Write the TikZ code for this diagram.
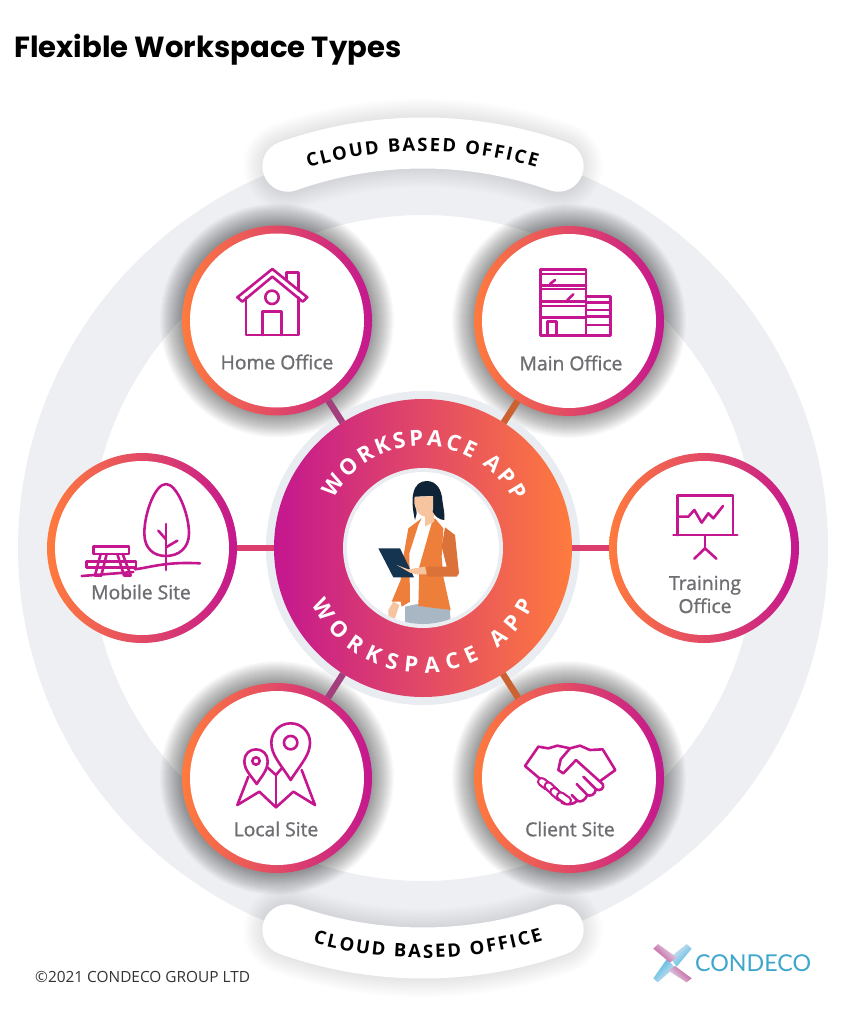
\documentclass[tikz,border=0pt]{standalone}
\usepackage{fontspec}
\setmainfont{Open Sans}
\newfontfamily\labfont{Open Sans}[FakeBold=1.2]
\newfontfamily\titlefont{Poppins}[BoldFont={Poppins Bold}]
\newfontfamily\curvefont{Open Sans}
\newfontfamily\brandfont{Lato}
\usetikzlibrary{decorations.text,calc}
\definecolor{mag}{HTML}{C4178F}
\definecolor{org}{HTML}{FF7B3D}
\definecolor{ringgrey}{HTML}{EEEFF3}
\definecolor{halo}{HTML}{E9ECF1}
\definecolor{labgrey}{HTML}{6D6E71}
\definecolor{teal}{HTML}{3BA7CC}
\definecolor{hair}{HTML}{0F2336}
\definecolor{skin}{HTML}{F7C4A0}
\definecolor{jacket}{HTML}{EE7F3A}
\definecolor{sleeve}{HTML}{DB7239}
\definecolor{navy}{HTML}{14344F}
\definecolor{pants}{HTML}{A9B6C4}
\definecolor{lpink}{HTML}{C04A92}
\definecolor{lblue}{HTML}{45B5E0}
\definecolor{pale}{HTML}{E4E8F2}
\tikzset{
  x=1pt,y=1pt,
  station/.style={circle,inner sep=0pt,outer sep=0pt,minimum size=190pt,left color=org,right color=mag,
    path picture={\fill[white] (path picture bounding box.center) circle (87pt);}},
  hubring/.style={circle,inner sep=0pt,outer sep=0pt,minimum size=298pt,left color=mag,right color=org,
    path picture={\fill[halo] (path picture bounding box.center) circle (80pt);
      \fill[white] (path picture bounding box.center) circle (76pt);}},
  conn/.style={line width=6.5pt},
  lab/.style={font=\labfont\fontsize{19.3}{23}\selectfont,text=labgrey,align=center,inner sep=0pt},
  icon/.style={draw=mag,line width=2.6pt,line join=round,line cap=round},
  zoomed/.style={x=0.33333pt,y=-0.33333pt},
  bannerarc/.style={line width=51pt,line cap=round,white},
}
\newcommand{\softshadow}[2]{\foreach \r in {96,97,...,117}{\fill[black,opacity=.019] (#1,#2) circle (\r pt);}}
\newcommand{\bannershadow}[2]{\foreach \w in {53,56,...,89}{\draw[black,opacity=.006,line width=\w pt,line cap=round] ([shift={(#1:405pt)}]423,-548) arc[start angle=#1,end angle=#2,radius=405pt];}}
\begin{document}
\begin{tikzpicture}
\useasboundingbox (0,0) rectangle (846,-1024);
\fill[white] (0,0) rectangle (846,-1024);

\node[anchor=base west,inner sep=0pt,font=\titlefont\fontsize{29.1}{32}\selectfont\bfseries,text=black] (title) at (14,-58) {Flexible Workspace Types};

% grey ring
\fill[ringgrey,even odd rule] (423,-548) circle (405pt) (423,-548) circle (333pt);

% soft shadows
\softshadow{277}{-320.5}
\softshadow{569}{-321}
\softshadow{277}{-778}
\softshadow{569}{-778}

% banners
\bannershadow{109.5}{70.5}
\bannershadow{250.5}{289.5}
\draw[bannerarc] ([shift={(109.5:405pt)}]423,-548) arc[start angle=109.5,end angle=70.5,radius=405pt];
\draw[bannerarc] ([shift={(250.5:405pt)}]423,-548) arc[start angle=250.5,end angle=289.5,radius=405pt];

% halo
\fill[halo] (423,-548) circle (157pt);

% nodes
\node[hubring] (hub) at (423,-548) {};
\node[station] (home) at (277,-320.5) {};
\node[station] (main) at (569,-321) {};
\node[station] (mobile) at (142,-548) {};
\node[station] (training) at (704,-548) {};
\node[station] (local) at (277,-778) {};
\node[station] (client) at (569,-778) {};

% connectors
\draw[conn,draw=lpink!85!black] (home) -- (hub);
\draw[conn,draw=org!80!black] (main) -- (hub);
\draw[conn,draw=mag!60!org] (mobile) -- (hub);
\draw[conn,draw=mag!60!org] (training) -- (hub);
\draw[conn,draw=lpink!85!black] (local) -- (hub);
\draw[conn,draw=org!80!black] (client) -- (hub);

% curved texts
\path[decorate,decoration={text along path,text align={fit to path},
  text={|\curvefont\bfseries\fontsize{22}{24}\selectfont\color{white}|WORKSPACE APP}}]
  ([shift={(151:102pt)}]hub.center) arc[start angle=151,end angle=27,radius=102pt];
\path[decorate,decoration={text along path,text align={fit to path},
  text={|\curvefont\bfseries\fontsize{22}{24}\selectfont\color{white}|WORKSPACE APP}}]
  ([shift={(207:125pt)}]hub.center) arc[start angle=207,end angle=333,radius=125pt];
\path[decorate,decoration={text along path,text align={fit to path},
  text={|\curvefont\bfseries\fontsize{18.5}{22}\selectfont\color{black}|CLOUD BASED OFFICE}}]
  ([shift={(106.8:397pt)}]hub.center) arc[start angle=106.8,end angle=73.4,radius=397pt];
\path[decorate,decoration={text along path,text align={fit to path},
  text={|\curvefont\bfseries\fontsize{18.5}{22}\selectfont\color{black}|CLOUD BASED OFFICE}}]
  ([shift={(254.4:410pt)}]hub.center) arc[start angle=254.4,end angle=287,radius=410pt];

% labels
\node[lab] (l1) at (277,-362) {Home Office};
\node[lab] (l2) at (571,-363) {Main Office};
\node[lab] (l3) at (141,-592) {Mobile Site};
\node[lab] (l4) at (705,-594.5) {Training\\Office};
\node[lab] (l5) at (276,-829) {Local Site};
\node[lab] (l6) at (570,-829) {Client Site};

% home icon
\begin{scope}[shift={(180,-220)},zoomed]
\draw[icon] (172,232) -- (277,147) -- (382,232) -- (368,245) -- (277,170) -- (187,245) -- cycle;
\draw[icon] (320,180) -- (320,157) -- (355,157) -- (355,212);
\draw[icon] (198,232) -- (198,345) -- (355,345) -- (355,232);
\draw[icon] (248,345) -- (248,275) -- (305,275) -- (305,345);
\draw[icon] (276,232) circle (6.7pt);
\end{scope}

% main office icon
\begin{scope}[shift={(470,-220)},zoomed]
\draw[icon] (211,148) rectangle (348,346);
\foreach \yy in {162,197,207,245,258,292}{\draw[icon] (211,\yy) -- (348,\yy);}
\draw[icon] (240,192) -- (255,180);
\draw[icon] (292,240) -- (310,223);
\draw[icon] (232,346) -- (232,305) -- (260,305) -- (260,346);
\draw[icon] (348,230) -- (422,230) -- (422,346) -- (348,346);
\foreach \yy in {248,270,290,315}{\draw[icon] (348,\yy) -- (422,\yy);}
\end{scope}

% mobile icon
\begin{scope}[shift={(40,-450)},zoomed]
\draw[icon] (378,102) .. controls (410,102) and (447,190) .. (447,250) .. controls (447,295) and (415,318) .. (378,318) .. controls (340,318) and (313,295) .. (313,250) .. controls (313,190) and (345,102) .. (378,102) -- cycle;
\draw[icon] (378,222) -- (378,360);
\draw[icon] (355,242) -- (378,268);
\draw[icon] (412,272) -- (378,292);
\draw[icon] (125,378) -- (280,366);
\draw[icon] (285,358) .. controls (340,350) and (380,335) .. (480,340);
\draw[icon] (160,290) rectangle (267,312);
\draw[icon] (140,335) -- (288,335) -- (288,352) -- (140,352) -- cycle;
\draw[icon] (182,312) -- (165,376);
\draw[icon] (200,312) -- (184,376);
\draw[icon] (232,312) -- (252,376);
\draw[icon] (248,312) -- (272,376);
\draw[icon] (165,376) -- (184,376);
\draw[icon] (252,376) -- (272,376);
\end{scope}

% training icon
\begin{scope}[shift={(605,-450)},zoomed]
\draw[icon] (218,255) -- (218,137) -- (384,137) -- (384,255);
\draw[icon] (205,255) -- (397,255);
\draw[icon] (300,255) -- (300,295);
\draw[icon] (268,326) -- (300,295) -- (334,326);
\draw[icon] (218,200) -- (250,200) -- (268,180) -- (290,218) -- (310,190) -- (325,205) -- (354,168);
\end{scope}

% local icon
\begin{scope}[shift={(180,-680)},zoomed]
\draw[icon] (332,300) .. controls (300,250) and (274,225) .. (274,188) .. controls (274,155) and (300,130) .. (332,130) .. controls (364,130) and (390,155) .. (390,188) .. controls (390,225) and (364,250) .. (332,300) -- cycle;
\draw[icon] (332,188) circle (6.7pt);
\draw[icon] (230,312) .. controls (212,285) and (193,270) .. (193,243) .. controls (193,222) and (209,208) .. (228,208) .. controls (247,208) and (263,222) .. (263,243) .. controls (263,270) and (248,285) .. (230,312) -- cycle;
\draw[icon] (228,243) circle (3.7pt);
\draw[icon] (205,290) -- (172,375) -- (238,335) -- (288,382) -- (340,335) -- (405,375) -- (365,270);
\draw[icon] (288,382) -- (288,285);
\draw[icon] (262,262) -- (288,285) -- (305,265);
\end{scope}

% client icon
\begin{scope}[shift={(470,-680)},zoomed]
\draw[icon] (212,298) -- (165,258) -- (205,200) -- (235,205) -- (262,197) -- (300,205);
\draw[icon] (392,302) -- (436,270) -- (398,208) -- (360,210) -- (330,197) -- (300,205) -- (272,238) -- (265,270) -- (280,280) -- (318,240) -- (398,312) .. controls (405,325) and (390,335) .. (378,328) -- (340,290);
\draw[icon] (378,328) .. controls (375,345) and (360,350) .. (352,345) -- (320,312);
\draw[icon] (352,345) .. controls (345,362) and (332,368) .. (322,362) -- (305,345);
\draw[icon] (322,362) .. controls (310,375) and (290,375) .. (275,368);
\foreach \xa/\ya/\xb/\yb in {215/305/232/318,235/318/255/337,252/335/272/352,272/348/292/362}{
  \draw[mag,line width=9.5pt,line cap=round] (\xa,\ya) -- (\xb,\yb);
  \draw[white,line width=5pt,line cap=round] (\xa,\ya) -- (\xb,\yb);
}
\end{scope}

% woman
\begin{scope}
\clip (423,-548) circle (76pt);
\begin{scope}[shift={(360,-470)},zoomed]
\fill[pants] (135,410) -- (180,400) -- (270,420) -- (272,470) -- (135,470) -- cycle;
\fill[skin] (100,395) -- (85,420) -- (85,442) -- (105,445) -- (118,405) -- cycle;
\fill[white] (170,165) -- (215,160) -- (180,290) -- (178,402) -- (148,402) -- (150,250) -- cycle;
\fill[jacket] (185,145) -- (145,175) -- (130,260) -- (122,330) -- (95,395) -- (122,395) -- (125,410) -- (150,395) -- (148,250) -- (175,165) -- cycle;
\fill[jacket] (215,160) -- (225,145) -- (250,175) -- (245,260) -- (250,320) -- (272,420) -- (175,408) -- (178,290) -- cycle;
\fill[sleeve] (255,172) -- (285,195) -- (297,310) -- (290,320) -- (200,320) -- (200,290) -- (260,290) -- (245,230) -- cycle;
\fill[skin] (195,125) -- (222,125) -- (222,155) -- (195,170) -- cycle;
\fill[hair] (165,150) .. controls (158,120) and (155,90) .. (160,70) .. controls (165,45) and (180,33) .. (200,33) .. controls (230,33) and (245,60) .. (247,90) .. controls (250,115) and (255,130) .. (253,150) .. controls (240,150) and (225,140) .. (218,125) -- (218,78) -- (165,80) -- (170,130) -- cycle;
\fill[skin] (163,82) -- (219,78) -- (219,118) .. controls (215,132) and (205,140) .. (195,140) .. controls (180,138) and (168,125) .. (163,100) -- cycle;
\fill[navy] (55,235) -- (120,235) -- (162,322) -- (100,322) -- cycle;
\fill[skin] (110,285) -- (145,298) -- (195,290) -- (200,313) -- (170,313) -- (150,308) -- cycle;
\end{scope}
\end{scope}

% footer
\node[anchor=west,inner sep=0pt,font=\fontsize{15.4}{17}\selectfont,text=black!80] (copy) at (35,-977) {©2021 CONDECO GROUP LTD};
\node[anchor=west,inner sep=0pt,font=\brandfont\fontsize{23.2}{28}\selectfont,text=teal] (brand) at (695,-963) {CONDECO};
\begin{scope}[shift={(620,-920)},zoomed]
\shade[left color=lblue,right color=pale,shading angle=45] (100,175) -- (113,187) -- (165,142) -- (140,118) -- cycle;
\shade[left color=lblue,right color=pale,shading angle=225] (200,72) -- (215,86) -- (170,140) -- (150,112) -- cycle;
\shade[left color=lpink,right color=pale,shading angle=135] (100,86) -- (114,72) -- (170,112) -- (150,128) -- cycle;
\shade[left color=lpink,right color=pale,shading angle=315] (215,175) -- (200,187) -- (145,152) -- (165,138) -- cycle;
\end{scope}
\end{tikzpicture}
\end{document}
